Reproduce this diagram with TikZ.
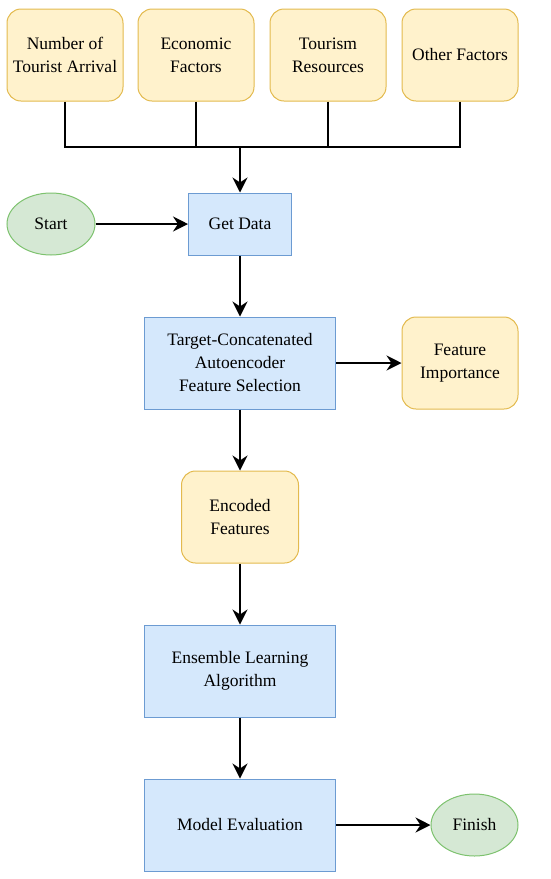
\documentclass[tikz,border=0pt]{standalone}
\usepackage{fontspec}
\setmainfont{Liberation Serif}
\usetikzlibrary{arrows.meta,shapes.geometric}

\definecolor{factorfill}{HTML}{FFF2CC}
\definecolor{factorline}{HTML}{E3BA4E}
\definecolor{stepfill}{HTML}{D5E8FC}
\definecolor{stepline}{HTML}{6C9BD2}
\definecolor{endfill}{HTML}{D5E8D4}
\definecolor{endline}{HTML}{7DC26E}

\tikzset{
  every box/.style={draw, line width=1pt, align=center, inner sep=0pt,
    font=\rmfamily\fontsize{17.5}{23}\selectfont},
  factor/.style={every box, fill=factorfill, draw=factorline,
    rounded corners=14pt, minimum width=116pt, minimum height=92pt},
  stepbox/.style={every box, fill=stepfill, draw=stepline,
    minimum width=191pt, minimum height=92pt},
  terminal/.style={every box, ellipse, fill=endfill, draw=endline,
    minimum width=88pt, minimum height=62pt},
  link/.style={line width=1.5pt,
    -{Stealth[length=15pt, width=15pt, inset=5pt]}}
}

\begin{document}
\begin{tikzpicture}[x=1pt, y=-1pt]
\useasboundingbox (0,0) rectangle (550,879);

\foreach \l/\x [count=\i] in {{Number of\\Tourist Arrival}/65,
    {Economic\\Factors}/196, {Tourism\\Resources}/328, {Other Factors}/460}
  \node [factor] (factor-\i) at (\x,55) {\l};

\node [terminal] (start) at (51,224) {Start};
\node [stepbox, minimum width=103pt, minimum height=62pt] (getdata) at (240,224) {Get Data};
\node [stepbox] (tcae) at (240,363) {Target-Concatenated\\Autoencoder\\Feature Selection};
\node [factor] (importance) at (460,363) {Feature\\Importance};
\node [factor, minimum width=117pt] (encoded) at (240,517) {Encoded\\Features};
\node [stepbox] (ensemble) at (240,671) {Ensemble Learning\\Algorithm};
\node [stepbox] (evaluation) at (240,825) {Model Evaluation};
\node [terminal, minimum width=87pt] (finish) at (474.5,825) {Finish};

% factors join on one bus above Get Data
\coordinate (bus) at (240,147);
\foreach \i in {1,...,4}
  \draw [line width=1.5pt] (factor-\i.south) |- (bus);
\draw [link] (bus) -- (getdata);

\draw [link] (start) -- (getdata);
\draw [link] (getdata) -- (tcae);
\draw [link] (tcae) -- (importance);
\draw [link] (tcae) -- (encoded);
\draw [link] (encoded) -- (ensemble);
\draw [link] (ensemble) -- (evaluation);
\draw [link] (evaluation) -- (finish);
\end{tikzpicture}
\end{document}
